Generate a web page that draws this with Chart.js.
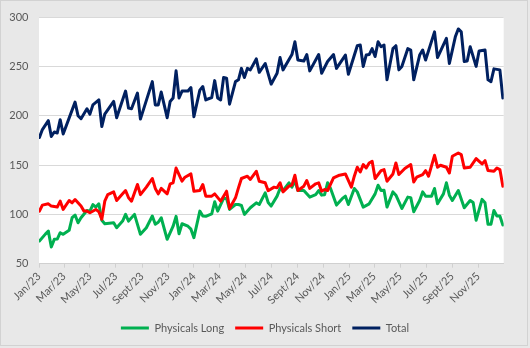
<!DOCTYPE html>
<html>
<head>
<meta charset="utf-8">
<script src="https://cdn.jsdelivr.net/npm/chart.js@4.4.1/dist/chart.umd.min.js"></script>
<style>
  html, body { margin: 0; padding: 0; background: #e8e8e8; }
  #wrap { width: 530px; height: 348px; position: relative; }
</style>
</head>
<body>
<div id="wrap"><canvas id="c"></canvas></div>
<script>
// ---- DATA ----
// Week index (weekly observations from early Jan 2023) and value
const seriesNames = ["Physicals Long", "Physicals Short", "Total"];
const tickLabels = ["Jan/23","Mar/23","May/23","Jul/23","Sept/23","Nov/23",
                    "Jan/24","Mar/24","May/24","Jul/24","Sept/24","Nov/24",
                    "Jan/25","Mar/25","May/25","Jul/25","Sept/25","Nov/25"];

const longSeries = [
  [0,73],[2,80],[3,83],[4,67],[5,74.7],[6,75],[7,81.4],[8,79.8],[10,83.8],[11,96.6],[12,99.3],[13,91.5],[14,96.6],
  [16,104],[17,103.3],[18,110],[19,107.4],[20,110.7],[21,94],[22,90.5],[25,91.5],[26,86.5],[28,93.2],[29,100],[30,93.2],
  [32,100],[34,79.8],[36,86.5],[38,98.3],[39,90],[40,92],[41,96.6],[43,74.7],[45,88],[46,98],[47,80.4],[48,90.5],
  [50,88],[51,85],[52,76.4],[54,103.3],[55,98.3],[56,98],[58,100.6],[59,112.8],[60,103.3],[62,116.2],[63,116],[64,105],
  [66,110],[67,110],[68,109],[69,100],[71,106.7],[73,111.7],[74,110],[76,121.8],[77,112],[78,108.4],[80,118.5],
  [81,126.3],[82,124],[84,132],[85,127.6],[86,134],[87,124.2],[89,124.2],[91,117.5],[93,120],[94,124.2],[95,119.5],
  [96,120],[97,132],[98,126.3],[100,109.4],[102,116.2],[103,118.5],[104,110],[106,126.3],[107,122.8],[109,107.4],
  [111,110.7],[113,120.8],[114,129.6],[115,124.2],[116,124.5],[117,107.4],[119,122.8],[120,119.5],[122,106],
  [124,117.5],[125,117],[126,102.6],[128,114.1],[129,122.8],[130,118.5],[132,118.5],[133,126.3],[134,110.7],
  [136,120.8],[137,132],[138,119.5],[139,114.1],[141,124.2],[143,106.7],[145,114.1],[146,112],[147,94],[149,115.2],
  [150,111.7],[151,90],[152,90],[153,104],[154,98.3],[155,98.3],[156,89.2]
];

const shortSeries = [
  [0,103.3],[1,109.4],[3,110.7],[4,108.4],[6,107.4],[7,113.4],[8,105],[10,114.1],[11,111.7],[12,115],[14,108.4],
  [15,103.3],[16,103.3],[17,101.6],[19,105],[20,102.6],[21,95],[22,113.4],[23,120],[25,122.8],[26,114.1],[28,120.8],
  [29,124.2],[30,116.8],[31,113.4],[33,130.3],[34,120],[36,127.6],[38,136.4],[39,126.3],[40,120.8],[41,126.3],
  [43,120.8],[44,131],[45,132],[46,147],[48,133.6],[49,137.7],[51,141],[52,123.5],[54,124.2],[55,130.3],[56,118.5],
  [58,118.5],[59,120.8],[61,113.4],[63,123.5],[64,106],[66,116.8],[67,126.9],[68,136.4],[70,138.7],[71,135.4],
  [73,143.7],[74,133.6],[76,132],[77,124],[79,127.6],[80,126.9],[81,132],[82,122.8],[84,128.6],[85,129.6],[86,139.7],
  [87,124.2],[89,128.6],[90,134.3],[91,126.3],[93,131],[94,132],[95,123.5],[96,125.2],[97,124.2],[99,136.9],
  [101,139.7],[103,141],[105,127.6],[106,138.7],[107,147.8],[108,143],[109,150.5],[110,147],[111,152.1],[112,153.8],
  [113,136.4],[115,144.4],[116,145.4],[117,133.6],[119,141],[120,152.1],[121,140.4],[123,146.5],[125,150.5],
  [126,132.9],[127,137.7],[129,140.4],[130,144.4],[131,138.7],[133,159.9],[134,147.8],[135,149.8],[137,147.8],
  [138,142],[139,158.9],[141,162.2],[142,160.6],[143,147],[145,147.8],[147,156.6],[149,151.1],[150,154.5],
  [151,144.4],[153,143.7],[154,147],[155,145.4],[156,128.6]
];

const totalSeries = [
  [0,178],[1,186],[3,195],[4,179],[5,183.5],[6,182.5],[7,196],[8,181.5],
  [12,213.8],[13,200],[14,197],[16,207],[17,201.6],[18,211],[20,216],[21,189],[22,201.6],
  [25,214.5],[26,198],[29,225],[30,207.7],[31,207],[33,223],[34,196.6],
  [38,234.6],[39,211],[40,211],[41,224],[43,198],[44,214.5],[45,218],[46,245.5],[47,218],[48,225],
  [50,225],[51,228.6],[52,199],[54,226],[55,229.6],[56,216],[58,218.5],[59,235.6],[60,218],[61,216],[62,238.7],[63,238],[64,211.7],
  [66,234.6],[67,236.4],[68,248],[69,238.7],[70,248],[71,246.5],[73,257.6],[74,244],[76,253],[78,232],
  [80,243],[81,259],[82,246.5],[85,262],[86,275],[87,256.5],[89,255.5],[90,262],[91,245.5],[94,262],[95,243],[97,255],[99,262],[100,248],
  [103,261.5],[104,242],[107,271],[108,271.7],[109,250],[110,261.5],[111,262],[112,268],[113,260],[114,275],[115,270],[116,271.7],[117,236.4],[119,268],[120,271],[121,246.5],[122,250],
  [124,268],[125,266.6],[126,236.4],[128,261.5],[129,266.6],[130,256.5],[133,285],[134,259],[137,278.4],[138,253],[140,280],[141,288],[142,285],[143,255],[144,255.5],[145,270],[147,250],[148,265.6],[150,266.6],[151,236.4],[152,234.6],[153,247.5],[155,246.5],[156,218]
];

// ---- helpers ----
const DAY = 86400000;
const origin = Date.UTC(2023, 0, 1);
const firstObs = Date.UTC(2023, 0, 2);
const axisEnd = Date.UTC(2025, 11, 31);
const monthIdx = {Jan:0, Feb:1, Mar:2, Apr:3, May:4, Jun:5, Jul:6, Aug:7, Sept:8, Oct:9, Nov:10, Dec:11};
function labelToDay(lbl) {
  const [m, y] = lbl.split("/");
  return (Date.UTC(2000 + Number(y), monthIdx[m], 1) - origin) / DAY;
}
const tickDays = tickLabels.map(labelToDay);
function toPoints(series) {
  return series.map(([w, v]) => ({ x: (firstObs - origin) / DAY + 7 * w, y: v }));
}

const FONT = "Lato, 'Liberation Sans', sans-serif";
const TXT = "#595959";

const bgPlugin = {
  id: "bg",
  beforeDraw(chart) {
    const { ctx, chartArea: a } = chart;
    ctx.save();
    ctx.fillStyle = "#e8e8e8";
    ctx.fillRect(0, 0, chart.width, chart.height);
    ctx.fillStyle = "#ffffff";
    ctx.fillRect(a.left, a.top, a.right - a.left, a.bottom - a.top);
    ctx.strokeStyle = "#d2d2d2";
    ctx.lineWidth = 1;
    ctx.strokeRect(0.5, 0.5, chart.width - 3, chart.height - 3);
    ctx.restore();
  }
};

new Chart(document.getElementById("c"), {
  type: "line",
  data: {
    datasets: [
      { label: seriesNames[0], data: toPoints(longSeries), borderColor: "#00B050", backgroundColor: "#00B050", order: 2 },
      { label: seriesNames[1], data: toPoints(shortSeries), borderColor: "#FF0000", backgroundColor: "#FF0000", order: 1 },
      { label: seriesNames[2], data: toPoints(totalSeries), borderColor: "#002060", backgroundColor: "#002060", order: 0 }
    ]
  },
  options: {
    responsive: true,
    maintainAspectRatio: false,
    devicePixelRatio: 1,
    animation: false,
    datasets: {
      line: {
        borderWidth: 3,
        pointRadius: 0,
        pointHoverRadius: 0,
        tension: 0,
        fill: false,
        borderJoinStyle: "round",
        borderCapStyle: "round"
      }
    },
    layout: { padding: { top: 15, right: 0, left: 0, bottom: 4.5 } },
    plugins: {
      tooltip: { enabled: false },
      legend: {
        position: "bottom",
        labels: {
          usePointStyle: true,
          pointStyle: "line",
          pointStyleWidth: 28,
          color: TXT,
          font: { family: FONT, size: 11 },
          padding: 11,
          sort: (a, b) => a.datasetIndex - b.datasetIndex
        }
      }
    },
    scales: {
      x: {
        type: "linear",
        min: 0,
        max: (axisEnd - origin) / DAY,
        afterBuildTicks: (s) => { s.ticks = tickDays.map(v => ({ value: v })); },
        afterFit: (s) => { s.height = 47.8; },
        ticks: {
          autoSkip: false,
          minRotation: 45,
          maxRotation: 45,
          padding: 2,
          color: TXT,
          font: { family: FONT, size: 11 },
          callback: (v, i) => tickLabels[i]
        },
        grid: { display: true, drawOnChartArea: false, drawTicks: true, tickLength: 4, color: "#d0d0d0" },
        border: { display: true, color: "#d0d0d0", width: 1 }
      },
      y: {
        min: 50,
        max: 300,
        afterFit: (s) => { s.width = 39; },
        ticks: { stepSize: 50, padding: 10.5, color: TXT, font: { family: FONT, size: 11 } },
        grid: { color: "#d9d9d9", lineWidth: 1, drawTicks: false },
        border: { display: false }
      },
      yPad: {
        type: "linear",
        position: "right",
        display: true,
        min: 50,
        max: 300,
        afterFit: (s) => { s.width = 26.3; },
        ticks: { display: false },
        grid: { display: false, drawOnChartArea: false },
        border: { display: false }
      }
    }
  },
  plugins: [bgPlugin]
});
</script>
</body>
</html>
